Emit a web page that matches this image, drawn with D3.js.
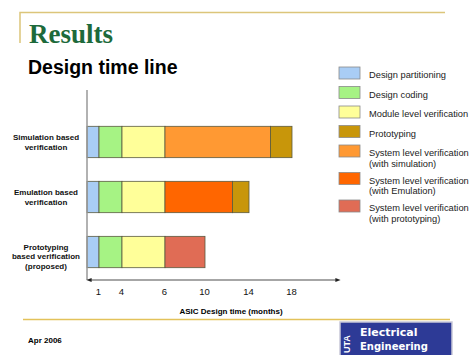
<!DOCTYPE html>
<html>
<head>
<meta charset="utf-8">
<script src="https://cdn.jsdelivr.net/npm/d3@7"></script>
<style>
  html, body { margin: 0; padding: 0; background: #fff; }
  svg { display: block; font-family: "Liberation Sans", Arial, sans-serif; }
</style>
</head>
<body>
<figure id="chart" style="margin:0"></figure>
<script>
// rows of the chart (line breaks kept as in the slide)
const categories = [
  "Simulation based\nverification",
  "Emulation based\nverification",
  "Prototyping\nbased verification\n(proposed)"
];

// phases, in stacking order
const phases = [
  "Design partitioning",
  "Design coding",
  "Module level verification",
  "System level verification\n(with simulation)",
  "System level verification\n(with Emulation)",
  "System level verification\n(with prototyping)",
  "Prototyping"
];
const phaseColors = ["#a9cdf5", "#a6f384", "#ffff99", "#ff9933", "#ff6600", "#e06c55", "#c8960a"];

// legend order as on the slide
const legendOrder = [0, 1, 2, 6, 3, 4, 5];

// durations (months) per phase, one value per row
const designPartitioning = [1, 1, 1];
const designCoding = [3, 3, 3];
const moduleVerification = [2, 2, 2];
const sysVerifSimulation = [10, 0, 0];
const sysVerifEmulation = [0, 6.5, 0];
const sysVerifPrototyping = [0, 0, 4];
const prototyping = [2, 1.5, 0];

// axis tick labels (months) - the slide's axis is not to scale
const tickValues = [1, 4, 6, 10, 14, 18];

const W = 474, H = 355;

const svg = d3.select("#chart").append("svg")
  .attr("width", W).attr("height", H);

// slide frame
const gold = "#dcc57a";
svg.append("path")
  .attr("d", "M20,43 V12.5 H445")
  .attr("fill", "none").attr("stroke", gold).attr("stroke-width", 1.5);

svg.append("text")
  .attr("x", 29).attr("y", 43)
  .style("font-family", "'Liberation Serif', 'DejaVu Serif', serif")
  .style("font-weight", "bold").style("font-size", "27px")
  .attr("fill", "#1d6a3b")
  .text("Results");

svg.append("text")
  .attr("x", 28).attr("y", 74)
  .style("font-weight", "bold").style("font-size", "19.5px")
  .attr("fill", "#000")
  .text("Design time line");

// build table for stacking
const series = [designPartitioning, designCoding, moduleVerification,
  sysVerifSimulation, sysVerifEmulation, sysVerifPrototyping, prototyping];
const table = categories.map((c, i) => {
  const row = { cat: c };
  phases.forEach((p, k) => row[p] = series[k][i]);
  return row;
});
const stacked = d3.stack().keys(phases)(table);

const color = d3.scaleOrdinal().domain(phases).range(phaseColors);

// piecewise scale, calibrated to the slide's uneven axis labels
const x = d3.scaleLinear()
  .domain([0, 1, 4, 6, 10, 14, 18])
  .range([87, 99, 122, 165, 205, 249, 292]);

const y = d3.scaleBand()
  .domain(categories)
  .range([112, 282])
  .paddingInner(0.43)
  .paddingOuter(0.26);

// bars
svg.append("g")
  .selectAll("g")
  .data(stacked)
  .join("g")
  .attr("fill", d => color(d.key))
  .selectAll("rect")
  .data(d => d.filter(s => s[1] - s[0] > 0))
  .join("rect")
  .attr("x", d => x(d[0]))
  .attr("y", d => y(d.data.cat))
  .attr("width", d => x(d[1]) - x(d[0]))
  .attr("height", y.bandwidth())
  .attr("stroke", "#5a5a40")
  .attr("stroke-width", 0.8);

// y axis line
svg.append("line")
  .attr("x1", 87).attr("x2", 87).attr("y1", 90).attr("y2", 280)
  .attr("stroke", "#999").attr("stroke-width", 1.5);

// x axis arrow line
const defs = svg.append("defs");
["start", "end"].forEach(k => {
  defs.append("marker")
    .attr("id", "arr-" + k)
    .attr("viewBox", "0 0 10 10")
    .attr("refX", 5).attr("refY", 5)
    .attr("markerWidth", 4).attr("markerHeight", 4)
    .attr("orient", k === "start" ? "auto-start-reverse" : "auto")
    .append("path").attr("d", "M0,1 L10,5 L0,9 Z").attr("fill", "#222");
});
svg.append("line")
  .attr("x1", 89).attr("x2", 338).attr("y1", 280).attr("y2", 280)
  .attr("stroke", "#888").attr("stroke-width", 1.3)
  .attr("marker-start", "url(#arr-start)")
  .attr("marker-end", "url(#arr-end)");

// tick labels
const xAxis = svg.append("g")
  .attr("transform", "translate(-1,280)")
  .call(d3.axisBottom(x).tickValues(tickValues).tickSize(0).tickPadding(8));
xAxis.select(".domain").remove();
xAxis.selectAll("text")
  .style("font-family", "'Liberation Sans', Arial, sans-serif")
  .style("font-size", "9.5px").attr("fill", "#111");

svg.append("text")
  .attr("x", 231).attr("y", 314)
  .attr("text-anchor", "middle")
  .style("font-weight", "bold").style("font-size", "8px")
  .text("ASIC Design time (months)");

// category labels
categories.forEach(c => {
  const lines = c.split("\n");
  const cy = y(c) + y.bandwidth() / 2 + (lines.length > 2 ? 4 : 0);
  const t = svg.append("text")
    .attr("text-anchor", "middle")
    .style("font-weight", "bold").style("font-size", "8px")
    .attr("fill", "#111");
  lines.forEach((ln, i) => {
    t.append("tspan")
      .attr("x", 46)
      .attr("y", cy + (i - (lines.length - 1) / 2) * 9.5 + 3)
      .text(ln);
  });
});

// legend
const legend = svg.append("g");
let ly = 73;
legendOrder.forEach(k => {
  const name = phases[k];
  const lines = name.split("\n");
  legend.append("rect")
    .attr("x", 339).attr("y", ly - 6)
    .attr("width", 21).attr("height", 12)
    .attr("fill", color(name))
    .attr("stroke", "#8a8a8a").attr("stroke-width", 0.8);
  const t = legend.append("text")
    .style("font-size", "9.3px").attr("fill", "#222");
  lines.forEach((ln, i) => {
    t.append("tspan").attr("x", 369).attr("y", ly + 5 + i * 10.5).text(ln);
  });
  ly += lines.length > 1 ? 27.5 : 19.5;
});

// footer
svg.append("line")
  .attr("x1", 23).attr("x2", 450).attr("y1", 319.5).attr("y2", 319.5)
  .attr("stroke", "#e3c25a").attr("stroke-width", 1.5);

svg.append("text")
  .attr("x", 28).attr("y", 343)
  .style("font-weight", "bold").style("font-size", "8px")
  .text("Apr 2006");

// logo block
const logo = svg.append("g");
logo.append("rect")
  .attr("x", 340).attr("y", 322).attr("width", 112).attr("height", 34)
  .attr("fill", "#2d3a96").attr("stroke", "#c8c8d8").attr("stroke-width", 1.5);
logo.append("text")
  .attr("transform", "translate(350,353) rotate(-90)")
  .style("font-weight", "bold").style("font-size", "9px")
  .attr("fill", "#fff").text("UTA");
logo.append("text")
  .attr("x", 360).attr("y", 336)
  .style("font-family", "'DejaVu Sans', sans-serif")
  .style("font-weight", "bold").style("font-size", "11px")
  .attr("fill", "#fff").text("Electrical");
logo.append("text")
  .attr("x", 360).attr("y", 350)
  .style("font-family", "'DejaVu Sans', sans-serif")
  .style("font-weight", "bold").style("font-size", "10px")
  .attr("fill", "#fff").text("Engineering");
</script>
</body>
</html>
